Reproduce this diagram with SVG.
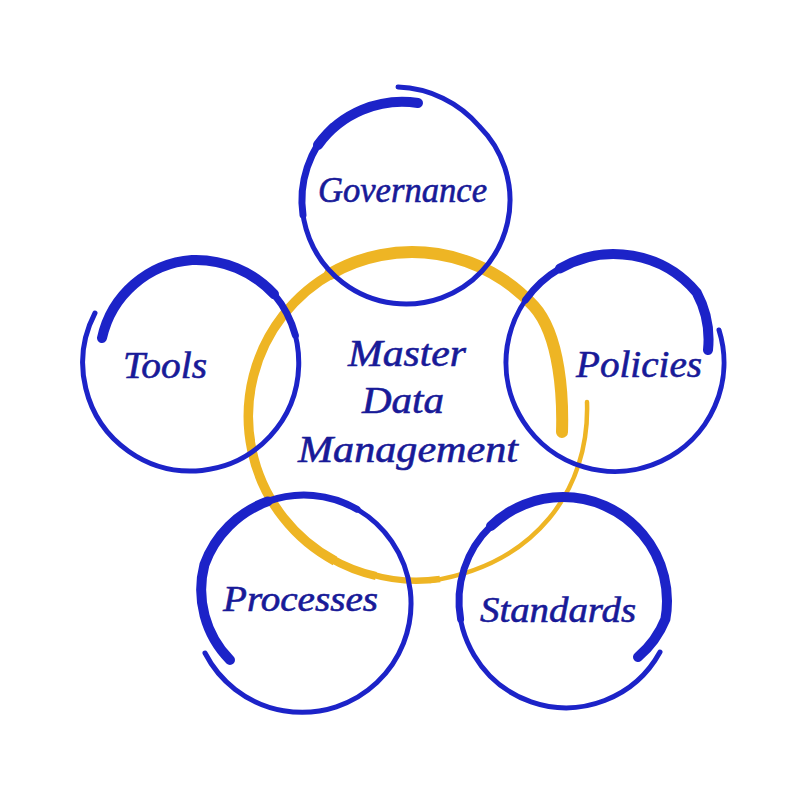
<svg xmlns="http://www.w3.org/2000/svg" width="800" height="800" viewBox="0 0 800 800">
<style>
.b{fill:none;stroke:#1c23c8;stroke-linecap:round}
.y{fill:none;stroke:#eeb524;stroke-linecap:round}
.bt{stroke-linecap:butt}
.w5{stroke-width:5}
.w7{stroke-width:7}
.w10{stroke-width:10}
.t{font-family:"Liberation Serif","Times New Roman",serif;font-style:italic;fill:#181a98;stroke:#181a98;stroke-width:0.6;text-anchor:middle}
</style>
<rect width="800" height="800" fill="#ffffff"/>
<g id="mdm">
  <path class="y" style="stroke-width:4.5" d="M587,402 C590,490 535,565 430,581"/>
  <path class="y bt" style="stroke-width:6.5" d="M440,579 A164 164 0 0 1 370,574"/>
  <path class="y bt" style="stroke-width:8" d="M376,576 A164 164 0 0 1 330,558"/>
  <path class="y bt" style="stroke-width:9.5" d="M335,561 A164 164 0 1 1 533.9,306.3"/>
  <path class="y" style="stroke-width:12" d="M330,274 A164 164 0 0 1 533.9,306.3 C560.7,336 563,400 562,432"/>
  <text class="t" x="407" y="366" font-size="37" textLength="118" lengthAdjust="spacingAndGlyphs">Master</text>
  <text class="t" x="403" y="413" font-size="37" textLength="82" lengthAdjust="spacingAndGlyphs">Data</text>
  <text class="t" x="408" y="462" font-size="37" textLength="220" lengthAdjust="spacingAndGlyphs">Management</text>
</g>
<g id="governance">
  <path class="b w5" d="M398,87 A112 112 0 0 1 479.5,126.5 A104 104 0 1 1 302.4,190.9"/>
  <path class="b w7" d="M303,215 A104 104 0 0 1 332.5,126.5"/>
  <path class="b w10" d="M318,145 A104 104 0 0 1 418,103"/>
  <text class="t" x="402.5" y="202" font-size="35" textLength="169" lengthAdjust="spacingAndGlyphs">Governance</text>
</g>
<g id="tools">
  <path class="b w5" d="M95,313 A108 108 0 1 0 274,294.2"/>
  <path class="b w10" d="M102,338 A100 100 0 0 1 192,260 A106 106 0 0 1 274,294.2"/>
  <path class="b w7" d="M274,294.2 A107 107 0 0 1 295.4,335.3"/>
  <text class="t" x="165" y="378" font-size="37" textLength="84" lengthAdjust="spacingAndGlyphs">Tools</text>
</g>
<g id="policies">
  <path class="b w5" d="M719,330 A109 109 0 1 1 544.6,279.3"/>
  <path class="b w7" d="M525.5,300.1 A108 108 0 0 1 560,268.5"/>
  <path class="b w10" d="M560,268.5 A108 108 0 0 1 696.7,292.6 A100 100 0 0 1 708,350"/>
  <text class="t" x="639" y="377" font-size="37" textLength="126" lengthAdjust="spacingAndGlyphs">Policies</text>
</g>
<g id="processes">
  <path class="b w5" d="M205,653 A109 109 0 1 0 357,509.2"/>
  <path class="b w10" d="M230,660 A100 100 0 0 1 204.4,564.7 A106 106 0 0 1 267.7,501.4"/>
  <path class="b w7" d="M267.7,501.4 A106 106 0 0 1 357,509.2"/>
  <text class="t" x="300.5" y="611" font-size="36" textLength="155" lengthAdjust="spacingAndGlyphs">Processes</text>
</g>
<g id="standards">
  <path class="b w5" d="M660,652 A107 107 0 0 1 460.6,582.9"/>
  <path class="b w7" d="M460.6,619.1 A104 104 0 0 1 491,526"/>
  <path class="b w10" d="M491,526 A104 104 0 0 1 563,497 A104 104 0 0 1 665.4,619.1 A98 98 0 0 1 638,657"/>
  <text class="t" x="558" y="622" font-size="36" textLength="156" lengthAdjust="spacingAndGlyphs">Standards</text>
</g>
<g id="connectors"></g>
</svg>
